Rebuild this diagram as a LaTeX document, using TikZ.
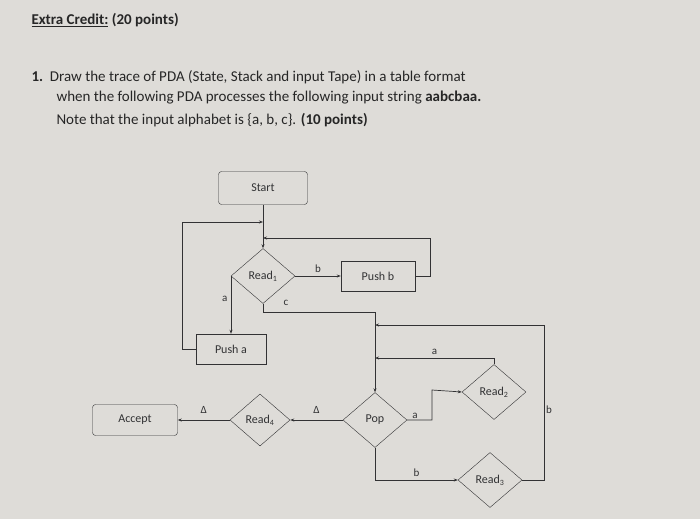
\documentclass[tikz,border=0pt]{standalone}
\usepackage{fontspec}
\setmainfont{Carlito}
\usetikzlibrary{shapes.geometric,arrows.meta}
\definecolor{paper}{RGB}{222,220,216}
\definecolor{ink}{RGB}{50,50,52}
\begin{document}
\begin{tikzpicture}[x=1pt,y=-1pt,
  box/.style={draw=ink,fill=paper,minimum width=#1,minimum height=30pt,inner sep=0pt,font=\fontsize{12}{14}\selectfont,text=ink},
  rbox/.style={box=#1,rounded corners=3pt},
  dia/.style={draw=ink,diamond,aspect=1.15,minimum width=64pt,minimum height=55pt,inner sep=0pt,font=\fontsize{12}{14}\selectfont,text=ink},
  conn/.style={draw=ink,line width=0.7pt,-{Stealth[length=4pt,width=3pt]}},
  lbl/.style={font=\fontsize{11}{13}\selectfont,text=ink},
  hdr/.style={font=\fontsize{15}{18}\selectfont,text=black!85,anchor=west}]
\fill[paper] (0,0) rectangle (700,519);
\useasboundingbox (0,0) rectangle (700,519);
\node[hdr] (h0) at (28,20) {\textbf{\underline{Extra Credit:} (20 points)}};
\node[hdr] (h1) at (28,77) {\textbf{1.}\ \ Draw the trace of PDA (State, Stack and input Tape) in a table format};
\node[hdr] (h2) at (53,98) {when the following PDA processes the following input string \textbf{aabcbaa.}};
\node[hdr] (h3) at (53,120) {Note that the input alphabet is \{a, b, c\}. \textbf{(10 points)}};

\node[rbox=89pt,minimum height=33pt] (start) at (263,188) {Start};
\node[dia] (r1) at (263,276) {Read\textsubscript{1}};
\node[box=74pt] (pb) at (378,276) {Push b};
\node[box=70pt] (pa) at (231,349) {Push a};
\node[dia] (pop) at (375,420) {Pop};
\node[dia] (r2) at (494,392) {Read\textsubscript{2}};
\node[dia] (r3) at (490,480) {Read\textsubscript{3}};
\node[dia,minimum width=60pt,minimum height=52pt] (r4) at (260,420) {Read\textsubscript{4}};
\node[rbox=85pt,minimum height=31pt] (acc) at (135,420) {Accept};

\coordinate (j1) at (263,222);
\coordinate (j2) at (263,238);
\coordinate (j3) at (375,325);
\coordinate (j4) at (375,358);

\draw[conn] (start.south) -- (r1.north);
\draw[conn] (pa.west) -| (182,222) -- (j1);
\draw[conn] (pb.east) -| (430,238) -- (j2);
\draw[conn] (r1.east) -- node[lbl,above] {b} (pb.west);
\draw[conn] (r1.west) -| node[lbl,pos=0.7,left] {a} (pa.north);
\draw[conn] (r1.south) |- (375,312) -- (pop.north);
\node[lbl] (lc) at (286,303) {c};
\draw[conn] (r3.east) -| (544,325) -- (j3);
\node[lbl] (lb2) at (549,410) {b};
\draw[conn] (r2.north) |- node[lbl,pos=0.75,above] {a} (j4);
\draw[conn] (pop.east) -| (432,390) -- (r2.west);
\node[lbl] (la) at (415,416) {a};
\draw[conn] (pop.south) |- node[lbl,pos=0.75,above] {b} (r3.west);
\draw[conn] (pop.west) -- node[lbl,above=3pt] {Δ} (r4.east);
\draw[conn] (r4.west) -- node[lbl,above=3pt] {Δ} (acc.east);
\end{tikzpicture}
\end{document}
